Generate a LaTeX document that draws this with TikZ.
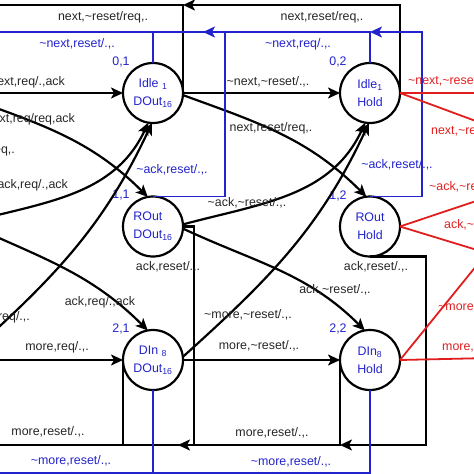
\documentclass[tikz,border=0pt]{standalone}
\usepackage{fontspec}
\setmainfont{Liberation Sans}
\usepackage{xcolor}
\usepackage{tikz}
\usetikzlibrary{positioning}
\usetikzlibrary{arrows.meta}
\definecolor{fsmblue}{RGB}{35,35,205}
\definecolor{fsmred}{RGB}{225,30,30}
\newcommand{\tld}{\textasciitilde}

\begin{document}
\begin{tikzpicture}[x=1pt,y=-1pt,
            node distance=133.5pt and 217pt, on grid,
            >={Stealth[length=12pt,width=11pt,inset=3pt]},
            state/.style={draw=black,line width=2.2pt,fill=white,circle,minimum size=60pt,
            inner sep=0pt,outer sep=0pt,align=center,text=fsmblue,font=\fontsize{12.4}{18}\selectfont},
            num/.style={text=fsmblue,inner sep=0pt,font=\fontsize{12.4}{14}\selectfont},
            lbl/.style={text=black!85,inner sep=0pt,font=\fontsize{12.4}{14}\selectfont},
            blbl/.style={lbl,text=fsmblue},
            rlbl/.style={lbl,text=fsmred,anchor=west},
            wire/.style={draw=black,line width=2.2pt},
            bwire/.style={draw=fsmblue,line width=1.8pt},
            rwire/.style={draw=fsmred,line width=1.8pt}]
            \useasboundingbox (0,0) rectangle (474,474);
            \clip (0,0) rectangle (474,474);

            \node[state] (idleDout) at (153,93) {Idle \textsubscript{1}\\DOut\textsubscript{16}};
            \node[state] (idleHold) [right=of idleDout] {Idle\textsubscript{1}\\Hold};
            \node[state,align=left] (routDout) [below=of idleDout] {ROut\\DOut\textsubscript{16}};
            \node[state] (routHold) [below=of idleHold] {ROut\\Hold};
            \node[state] (dinDout) [below=of routDout] {DIn \textsubscript{8}\\DOut\textsubscript{16}};
            \node[state] (dinHold) [below=of routHold] {DIn\textsubscript{8}\\Hold};

            \node[num] (n01) [above left=31pt and 32pt of idleDout] {0,1};
            \node[num] (n02) [above left=31pt and 32pt of idleHold] {0,2};
            \node[num] (n11) [above left=31pt and 32pt of routDout] {1,1};
            \node[num] (n12) [above left=31pt and 32pt of routHold] {1,2};
            \node[num] (n21) [above left=31pt and 32pt of dinDout] {2,1};
            \node[num] (n22) [above left=31pt and 32pt of dinHold] {2,2};

            \coordinate (eT) at (-10,5);
            \coordinate (eU) at (-10,32);
            \coordinate (eB) at (-10,445);
            \coordinate (eD) at (-10,473);
            \coordinate (lIdle) at (-10,93);
            \coordinate (lDin) at (-10,360);
            \coordinate (wIdle) at (-34,97);
            \coordinate (wRout) at (-34,223);
            \coordinate (wDin) at (-34,357);
            \coordinate (kL) at (194,445);
            \coordinate (tL) at (178,445);
            \coordinate (kR) at (426,445);
            \coordinate (jL) at (225,32);
            \coordinate (tU) at (203,32);
            \coordinate (jR) at (422,32);

            \draw[wire,->] (idleHold.east) |- (idleDout.east |- eT);
            \draw[wire] (idleDout.east) |- (eT);
            \draw[wire,->] (lIdle) -- (idleDout.west);
            \draw[wire,->] (idleDout.east) -- (idleHold.west);
            \draw[wire,->] (wIdle) to[out=-20,in=135] (routDout.100);
            \draw[wire,->] (wRout) to[out=15,in=-115] (idleDout.-99);
            \draw[wire,->] (wDin) to[out=42,in=-115] (idleDout.-92);
            \draw[wire,->] (wRout) to[out=-25,in=135] (dinDout.100);
            \draw[wire,->] (idleDout.-4) to[out=-20,in=135] (routHold.97);
            \draw[wire,->] (routDout.4) to[out=15,in=-115] (idleHold.-99);
            \draw[wire,->] (dinDout.6) to[out=42,in=-115] (idleHold.-92);
            \draw[wire,->] (routDout.-4) to[out=-25,in=135] (dinHold.100);
            \draw[wire,->] (lDin) -- (dinDout.west);
            \draw[wire,->] (dinDout.east) -- (dinHold.west);
            \draw[wire] (dinHold.west) |- (eB);
            \draw[wire] (dinDout.west) -- (dinDout.west |- eB);
            \draw[wire,->] (routHold.south) -| (kR) -- (dinHold.west |- eB);
            \draw[wire,->] (routDout.east) -| (kL) -- (tL);

            \draw[bwire] (idleHold.north) |- (eU);
            \draw[bwire] (idleDout.north) -- (idleDout.north |- eU);
            \draw[bwire,->] (routHold.north) -| (jR) -- (idleHold.north |- eU);
            \draw[bwire,->] (routDout.north) -| (jL) -- (tU);
            \draw[bwire] (dinDout.south) -- (dinDout.south |- eD);
            \draw[bwire] (dinHold.south) |- (eD);

            \draw[rwire] (idleHold.east) -- (490,93);
            \draw[rwire] (idleHold.east) -- (500,130);
            \draw[rwire] (routHold.east) -- (500,193);
            \draw[rwire] (routHold.east) -- (500,257);
            \draw[rwire] (dinHold.east) -- (490,358);
            \draw[rwire] (dinHold.east) -- (490,249);

            \node[lbl] (tTopL) at (103,17) {next,\tld reset/req,.};
            \node[lbl] (tTopR) at (322,17) {next,reset/req,.};
            \node[lbl,anchor=east] (tIdleIn) at (65,82) {next,req/.,ack};
            \node[lbl] (tIdleHold) at (268,82) {\tld next,\tld reset/.,.};
            \node[lbl,anchor=east] (tRoutIn) at (75,119) {next,req/req,ack};
            \node[lbl] (tRoutHold) at (271,128) {next,reset/req,.};
            \node[lbl,anchor=east] (tReq) at (15,151) {req,.};
            \node[lbl,anchor=east] (tAckIn) at (68,185) {ack,req/.,ack};
            \node[lbl] (tAckIdle) at (247,203) {\tld ack,\tld reset/.,.};
            \node[lbl] (tAckRstL) at (168,267) {ack,reset/.,.};
            \node[lbl] (tAckRstR) at (376,267) {ack,reset/.,.};
            \node[lbl] (tAckDin) at (100,302) {ack,req/.,ack};
            \node[lbl] (tAckDinH) at (335,290) {ack,\tld reset/.,.};
            \node[lbl,anchor=east] (tReqDot) at (30,317) {req/.,.};
            \node[lbl] (tMoreIdle) at (248,315) {\tld more,\tld reset/.,.};
            \node[lbl] (tMoreIn) at (57,347) {more,req/.,.};
            \node[lbl] (tMoreHold) at (259,346) {more,\tld reset/.,.};
            \node[lbl] (tMoreRstL) at (48,432) {more,reset/.,.};
            \node[lbl] (tMoreRstR) at (272,433) {more,reset/.,.};

            \node[blbl] (bNextL) at (77,44) {\tld next,reset/.,.};
            \node[blbl] (bNextR) at (298,44) {\tld next,req/.,.};
            \node[blbl] (bAckL) at (172,170) {\tld ack,reset/.,.};
            \node[blbl] (bAckR) at (397,165) {\tld ack,reset/.,.};
            \node[blbl] (bMoreL) at (71,461) {\tld more,reset/.,.};
            \node[blbl] (bMoreR) at (291,462) {\tld more,reset/.,.};

            \node[rlbl] (rNext) at (408,81) {\tld next,\tld reset/.,.};
            \node[rlbl] (rNextReq) at (431,131) {next,\tld reset/req,.};
            \node[rlbl] (rAck) at (429,187) {\tld ack,\tld reset/.,.};
            \node[rlbl] (rAckDot) at (444,225) {ack,\tld reset/.,.};
            \node[rlbl] (rMore) at (438,307) {\tld more,\tld reset/.,.};
            \node[rlbl] (rMoreDot) at (442,347) {more,\tld reset/.,.};
        \end{tikzpicture}
\end{document}
